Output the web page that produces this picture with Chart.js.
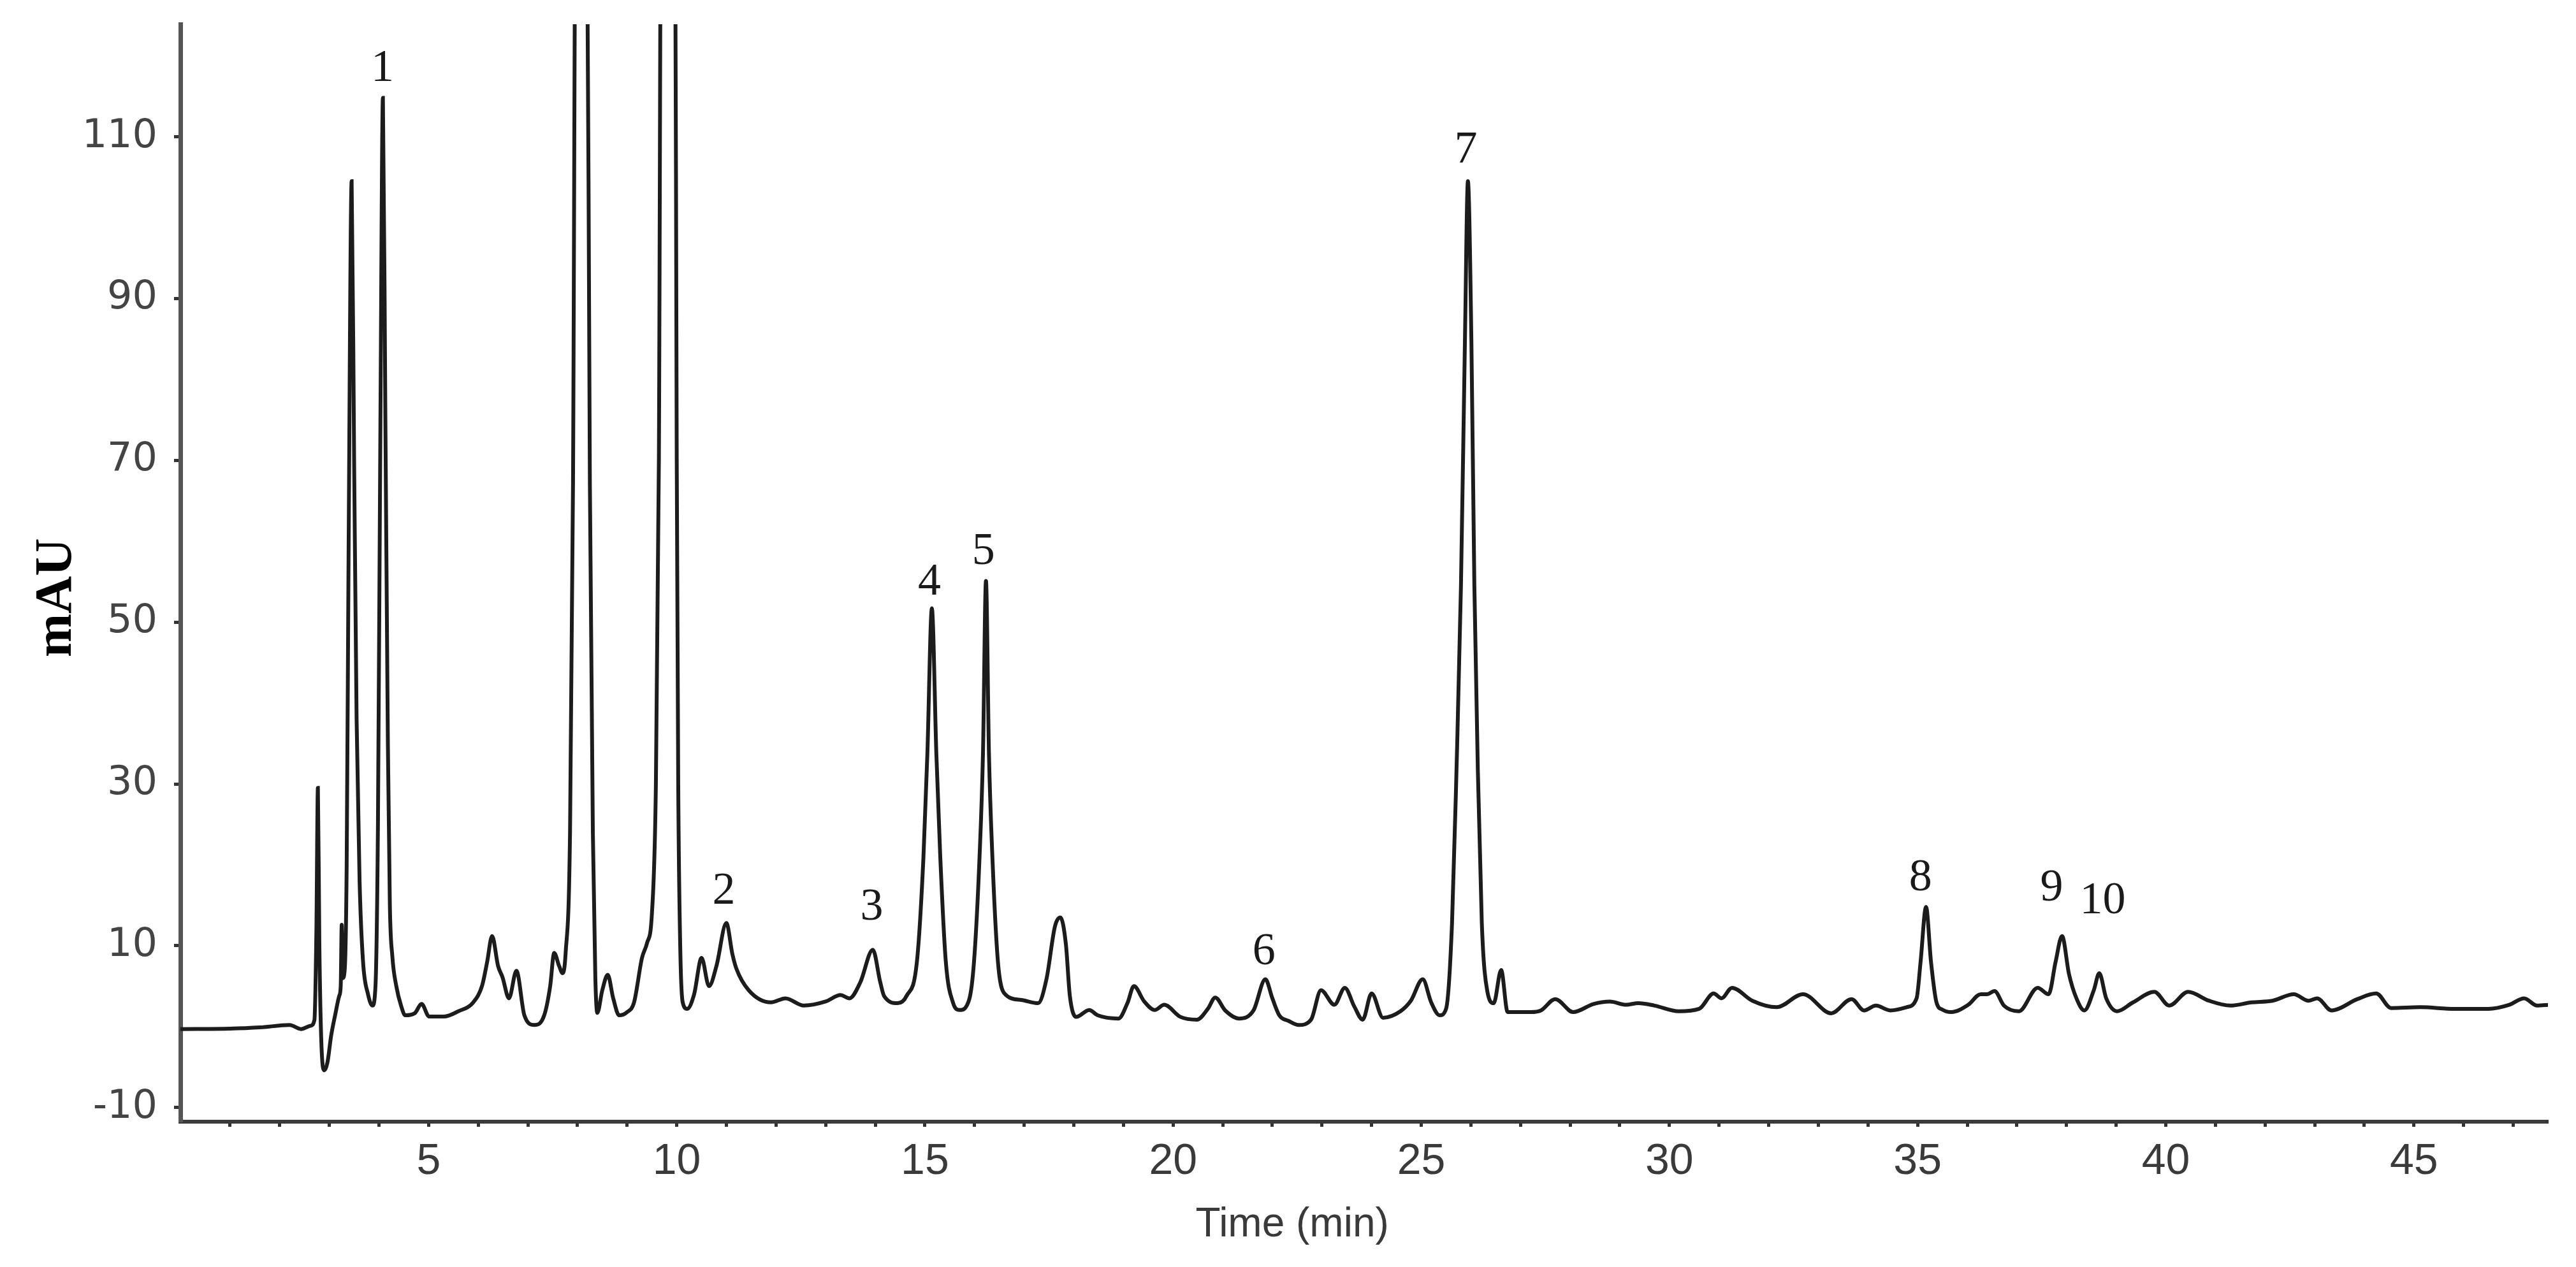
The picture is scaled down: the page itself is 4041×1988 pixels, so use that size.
<!DOCTYPE html>
<html lang="en">

<head>
    <meta charset="UTF-8" />
    <title>Chromatogram</title>
    <script src="https://cdn.jsdelivr.net/npm/chart.js@4.4.1/dist/chart.umd.min.js"></script>
    <style>
        html, body { margin: 0; padding: 0; background: #fff; }
        canvas { display: block; }
    </style>
</head>

<body>
    <canvas id="chromChart" width="4041" height="1988"></canvas>
</body>

<script>
    // retention time (min) and absorbance (mAU)
    const times = [
        0.0, 1.0, 1.6, 2.2, 2.43, 2.62, 2.70, 2.74, 2.77, 2.80, 2.84, 2.90, 2.96, 3.04, 3.12, 3.20,
        3.23, 3.25, 3.27, 3.31, 3.35, 3.39, 3.45, 3.50, 3.55, 3.61, 3.68, 3.78, 3.87, 3.93, 3.98,
        4.03, 4.08, 4.13, 4.18, 4.22, 4.27, 4.35, 4.45, 4.53, 4.72, 4.86, 5.01, 5.31, 5.60, 5.90,
        6.08, 6.18, 6.28, 6.40, 6.49, 6.62, 6.77, 6.93, 7.13, 7.33, 7.45, 7.53, 7.63, 7.70, 7.76,
        7.85, 7.91, 7.97, 8.18, 8.25, 8.31, 8.36, 8.40, 8.50, 8.61, 8.72, 8.84, 9.00, 9.14, 9.30,
        9.40, 9.50, 9.58, 9.64, 9.69, 9.96, 10.00, 10.03, 10.07, 10.12, 10.21, 10.35, 10.50, 10.65,
        10.80, 11.00, 11.12, 11.20, 11.45, 11.90, 12.19, 12.56, 13.00, 13.30, 13.48, 13.70, 13.95,
        14.10, 14.18, 14.45, 14.63, 14.84, 14.97, 15.05, 15.14, 15.23, 15.31, 15.42, 15.57, 15.70,
        15.89, 15.99, 16.10, 16.17, 16.23, 16.29, 16.36, 16.47, 16.59, 16.94, 17.28, 17.45, 17.62,
        17.73, 17.84, 17.92, 18.05, 18.31, 18.48, 18.90, 19.08, 19.21, 19.42, 19.63, 19.82, 20.15,
        20.48, 20.70, 20.85, 21.05, 21.33, 21.62, 21.86, 22.00, 22.14, 22.33, 22.53, 22.78, 22.98,
        23.25, 23.46, 23.65, 23.82, 24.00, 24.23, 24.58, 24.79, 25.03, 25.20, 25.37, 25.50, 25.62,
        25.71, 25.80, 25.88, 25.94, 26.01, 26.07, 26.14, 26.22, 26.33, 26.46, 26.61, 26.74, 27.21,
        27.41, 27.70, 28.06, 28.47, 28.80, 29.13, 29.37, 29.70, 30.19, 30.60, 30.89, 31.05, 31.26,
        31.67, 32.16, 32.69, 33.26, 33.67, 33.92, 34.16, 34.45, 34.78, 34.98, 35.06, 35.17, 35.27,
        35.38, 35.50, 35.68, 36.02, 36.27, 36.40, 36.55, 36.74, 37.04, 37.42, 37.64, 37.78, 37.91,
        38.05, 38.20, 38.36, 38.55, 38.66, 38.80, 39.02, 39.34, 39.77, 40.07, 40.45, 40.87, 41.30,
        41.73, 42.15, 42.58, 42.88, 43.05, 43.34, 43.86, 44.24, 44.54, 45.13, 45.82, 46.50, 46.92,
        47.22, 47.48, 47.73
    ];
    const signal = [
        -0.3, -0.25, -0.1, 0.2, -0.3, 0.1, 0.8, 12, 29.5, 10, -2, -5.4, -4.5, -1, 1.5, 3.8,
        5, 12.6, 6, 7, 20, 60, 104.5, 70, 38, 18, 8, 4, 2.6, 5, 25,
        75, 114.8, 75, 35, 15, 8.7, 5, 2.5, 1.4, 1.65, 2.8, 1.25, 1.25, 1.9, 3.0,
        5.1, 8, 11.2, 7.5, 6.1, 3.5, 6.9, 1.4, 0.2, 1.4, 5, 9.1, 7.5, 6.6, 9,
        24, 67, 150, 150, 67, 24, 6, 1.7, 4.5, 6.4, 3.5, 1.4, 1.8, 3.0, 8.5,
        10.3, 14, 30, 70, 150, 150, 70, 30, 10, 3, 2.2, 4, 8.5, 5.0,
        7.5, 12.8, 9, 7.2, 4.5, 3.0, 3.5, 2.6, 3.1, 3.9, 3.5, 5.5, 9.5,
        5.5, 3.75, 2.9, 3.8, 8.1, 20.9, 33.8, 51.7, 33.8, 20.9, 8.1, 2.9, 2.05,
        3.3, 8.1, 20.9, 33.8, 55.1, 33.8, 20.9, 8.1, 4.2, 3.3, 2.9, 5.9, 12.4,
        13.5, 10.2, 3.8, 1.2, 2.05, 1.4, 1.0, 2.9, 5.0, 3.1, 2.05, 2.7, 1.2,
        0.86, 2.2, 3.6, 2.0, 1.0, 2.0, 5.85, 3.5, 1.4, 0.7, 0.2, 0.86, 4.5,
        2.7, 4.8, 2.5, 0.86, 4.1, 1.1, 1.9, 3.2, 5.85, 3.0, 1.4, 2.2, 12.8,
        31.7, 54.5, 84.8, 104.5, 84.8, 54.5, 31.7, 12.8, 4.4, 2.9, 7.0, 1.8, 1.8,
        2.0, 3.4, 1.8, 2.8, 3.1, 2.7, 2.9, 2.6, 1.9, 2.2, 4.1, 3.5, 4.8,
        3.2, 2.4, 4.0, 1.65, 3.4, 2.0, 2.6, 2.0, 2.4, 3.5, 8, 14.8, 8,
        3, 2.1, 1.8, 2.7, 4.0, 4.0, 4.4, 2.6, 1.9, 4.8, 4.0, 8, 11.2,
        6.5, 3.5, 2.0, 4.5, 6.6, 3.5, 1.9, 3.0, 4.3, 2.6, 4.3, 3.2, 2.6,
        3.0, 3.2, 4.0, 3.2, 3.5, 2.0, 3.4, 4.1, 2.3, 2.4, 2.2, 2.2, 2.7,
        3.5, 2.6, 2.7
    ];

    // peak numbers and where their labels sit (time, mAU)
    const peakNums = ['1', '2', '3', '4', '5', '6', '7', '8', '9', '10'];
    const peakLabelT = [4.07, 10.95, 13.93, 15.09, 16.18, 21.83, 25.9, 35.06, 37.7, 38.73];
    const peakLabelV = [118.4, 16.7, 14.7, 54.9, 58.7, 9.2, 108.3, 18.3, 17.1, 15.5];

    // axis ticks
    const yTicks = [-10, 10, 30, 50, 70, 90, 110];
    const xTicks = Array.from({ length: 47 }, (_, i) => i + 1);

    const points = times.map((t, i) => ({ x: t, y: signal[i] }));

    // peak numbers above the trace
    const peakLabels = {
        id: 'peakLabels',
        afterDatasetsDraw(chart) {
            const { ctx, scales: { x, y } } = chart;
            ctx.save();
            ctx.font = '72px "Liberation Serif", "Times New Roman", serif';
            ctx.fillStyle = '#1a1a1a';
            ctx.textAlign = 'center';
            ctx.textBaseline = 'middle';
            peakNums.forEach((n, i) => {
                ctx.fillText(n, x.getPixelForValue(peakLabelT[i]), y.getPixelForValue(peakLabelV[i]));
            });
            ctx.restore();
        }
    };

    // axis titles are a little off-centre in the original, so draw them here
    const axisTitles = {
        id: 'axisTitles',
        afterDraw(chart) {
            const { ctx, chartArea, scales: { x } } = chart;
            ctx.save();
            ctx.textAlign = 'center';
            ctx.textBaseline = 'middle';

            ctx.font = '64px "Liberation Sans", Arial, sans-serif';
            ctx.fillStyle = '#3a3a3a';
            ctx.fillText('Time (min)', x.getPixelForValue(22.4), chartArea.bottom + 162);

            ctx.translate(90, chartArea.top + 900);
            ctx.rotate(-Math.PI / 2);
            ctx.font = 'bold 82px "Liberation Serif", "Times New Roman", serif';
            ctx.fillStyle = '#000';
            ctx.fillText('mAU', 0, 0);
            ctx.restore();
        }
    };

    const ctx = document.getElementById('chromChart').getContext('2d');

    const chromChart = new Chart(ctx, {
        type: 'line',
        data: {
            datasets: [{
                data: points,
                borderColor: '#1c1c1c',
                borderWidth: 6,
                pointRadius: 0,
                fill: false,
                cubicInterpolationMode: 'monotone'
            }]
        },
        options: {
            responsive: false,
            animation: false,
            devicePixelRatio: 1,
            layout: {
                padding: { top: 38, right: 44, left: 0, bottom: 0 }
            },
            plugins: {
                legend: { display: false },
                tooltip: { enabled: false }
            },
            scales: {
                x: {
                    type: 'linear',
                    min: 0,
                    max: 47.7,
                    afterBuildTicks: (axis) => { axis.ticks = xTicks.map(v => ({ value: v })); },
                    afterFit: (scale) => {
                        scale.height = 228;
                        scale.paddingLeft = 0;
                        scale.paddingRight = 0;
                    },
                    ticks: {
                        autoSkip: false,
                        maxRotation: 0,
                        padding: 14,
                        color: '#3a3a3a',
                        font: { family: '"Liberation Sans Narrow", "Liberation Sans", Arial, sans-serif', size: 68 },
                        callback: (v) => (v % 5 === 0 ? String(v) : '')
                    },
                    grid: {
                        drawOnChartArea: false,
                        drawTicks: true,
                        tickLength: 8,
                        tickColor: '#333',
                        tickWidth: 5
                    },
                    border: { display: true, color: '#3a3a3a', width: 6 }
                },
                y: {
                    type: 'linear',
                    min: -11.75,
                    max: 123.9,
                    afterBuildTicks: (axis) => { axis.ticks = yTicks.map(v => ({ value: v })); },
                    afterFit: (scale) => {
                        scale.width = 283;
                        scale.paddingTop = 0;
                        scale.paddingBottom = 0;
                    },
                    ticks: {
                        padding: 26,
                        color: '#444',
                        font: { family: '"DejaVu Sans", sans-serif', size: 62 }
                    },
                    grid: {
                        drawOnChartArea: false,
                        drawTicks: true,
                        tickLength: 10,
                        tickColor: '#333',
                        tickWidth: 5
                    },
                    border: { display: true, color: '#555', width: 7 }
                }
            }
        },
        plugins: [peakLabels, axisTitles]
    });
</script>

</html>
